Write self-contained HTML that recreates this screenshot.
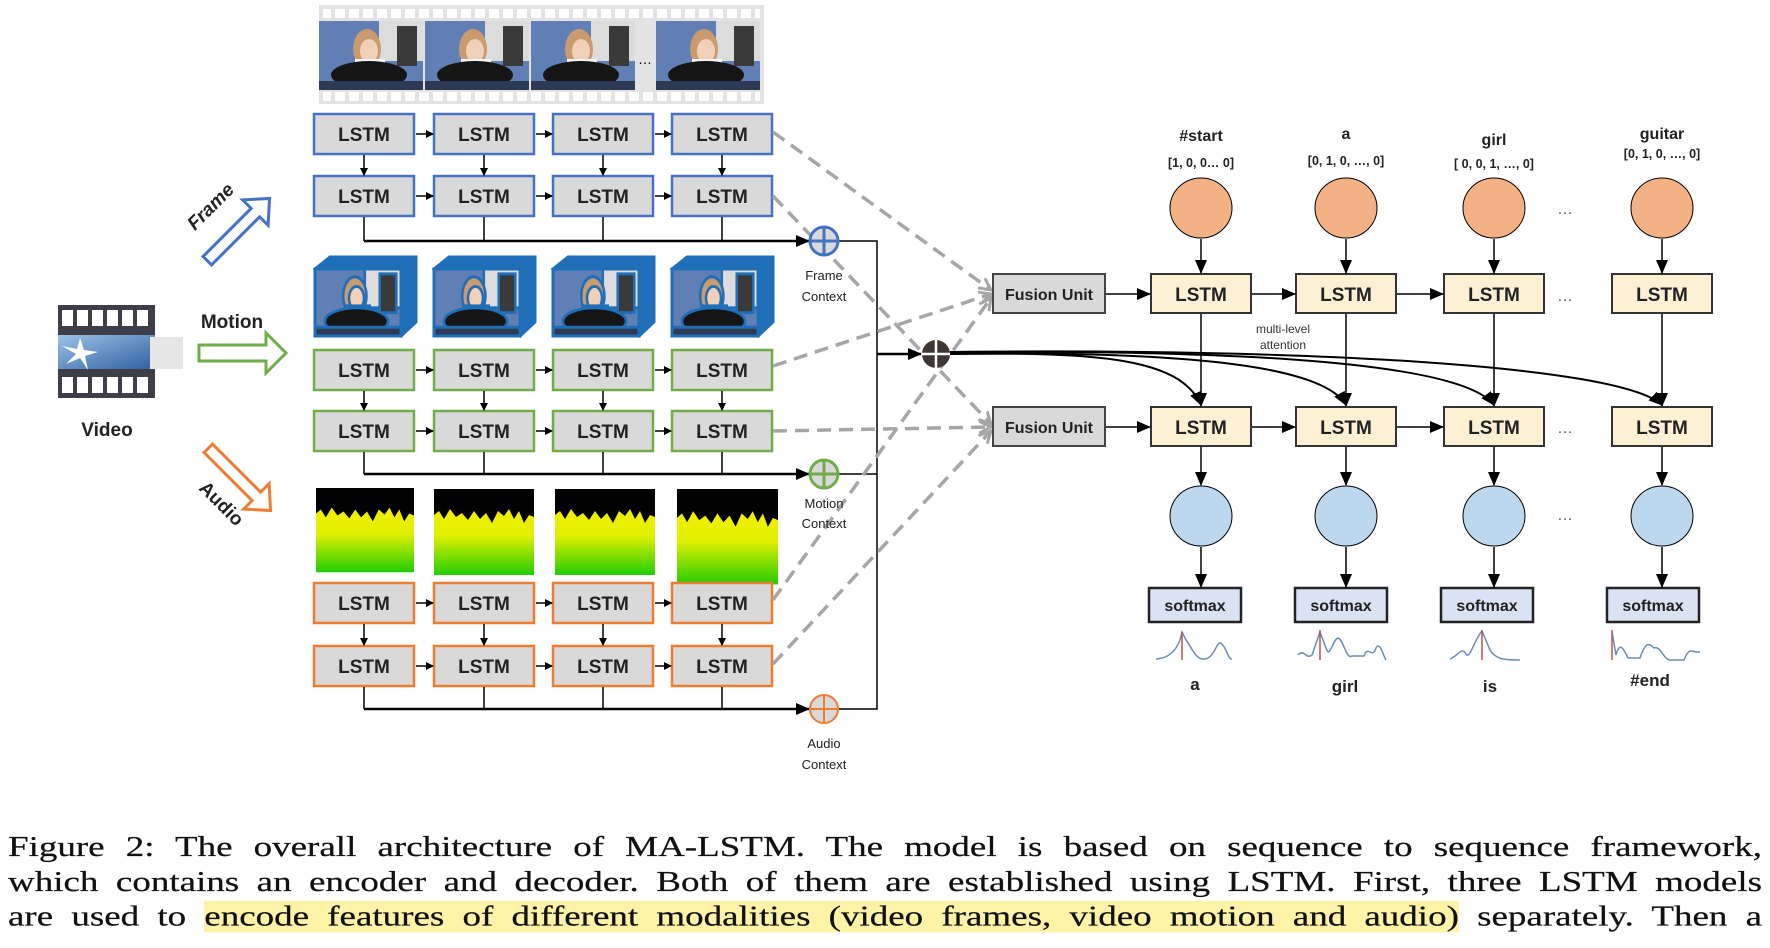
<!DOCTYPE html>
<html><head><meta charset="utf-8"><style>
html,body{margin:0;padding:0;background:#fff;}
body{width:1770px;height:948px;overflow:hidden;position:relative;}
svg{position:absolute;left:0;top:0;}
.cap{position:absolute;left:8px;width:1754px;font-family:"Liberation Serif",serif;font-size:37px;line-height:45px;top:830px;color:#111;transform:scale(1,0.77);transform-origin:0 0;-webkit-text-stroke:0.3px #111;}
.cap div{white-space:nowrap;text-align:justify;text-align-last:justify;}
.hl{background:#fff3a8;}
</style></head><body>
<svg width="1770" height="948" viewBox="0 0 1770 948" font-family="Liberation Sans, sans-serif">
<defs>
<marker id="a" markerWidth="8" markerHeight="8" refX="7" refY="4" orient="auto" markerUnits="userSpaceOnUse"><path d="M0,0 L8,4 L0,8z" fill="#000"/></marker>
<marker id="ab" markerWidth="14" markerHeight="12" refX="13" refY="6" orient="auto" markerUnits="userSpaceOnUse"><path d="M0,0 L14,6 L0,12z" fill="#000"/></marker>
<marker id="g" markerWidth="14" markerHeight="14" refX="12" refY="7" orient="auto" markerUnits="userSpaceOnUse"><path d="M0,1 L12,7 L0,13" fill="none" stroke="#a6a6a6" stroke-width="3"/></marker>
<linearGradient id="au" x1="0" y1="0" x2="0" y2="1"><stop offset="0" stop-color="#ffee00"/><stop offset="0.55" stop-color="#e0f000"/><stop offset="1" stop-color="#22cc00"/></linearGradient>
<linearGradient id="vid" x1="0" y1="0" x2="1" y2="1"><stop offset="0" stop-color="#9cc3e6"/><stop offset="1" stop-color="#2f5fa0"/></linearGradient>
<g id="photo">
<rect x="0" y="0" width="104" height="69" fill="#5f7fb5"/>
<rect x="60" y="0" width="44" height="40" fill="#dcdcdc"/>
<rect x="78" y="5" width="20" height="40" fill="#3a3a3a"/>
<ellipse cx="48" cy="28" rx="14" ry="20" fill="#c99b6e"/>
<ellipse cx="50" cy="30" rx="9" ry="12" fill="#f0d0b8"/>
<rect x="36" y="38" width="30" height="22" fill="#f2f2f2"/>
<ellipse cx="50" cy="54" rx="38" ry="14" fill="#151515"/>
<rect x="0" y="60" width="104" height="9" fill="#2d3a55"/>
</g>
<g id="aud">
<rect x="0" y="0" width="100" height="86" fill="url(#au)"/>
<path d="M0,0 H100 V28 L95,26 L90,34 L85,22 L80,30 L75,20 L70,27 L64,22 L58,34 L52,24 L46,30 L40,22 L34,31 L28,24 L22,28 L16,20 L10,30 L5,22 L0,26z" fill="#000"/>
</g>
</defs>

<rect x="319" y="5" width="445" height="99" fill="#e3e3e3"/>
<g fill="#fff">
<rect x="323" y="9" width="437" height="9"/>
<rect x="323" y="92" width="437" height="9"/>
</g>
<g stroke="#e3e3e3" stroke-width="4">
<path d="M333,8 V19 M347,8 V19 M361,8 V19 M375,8 V19 M389,8 V19 M403,8 V19 M417,8 V19 M431,8 V19 M445,8 V19 M459,8 V19 M473,8 V19 M487,8 V19 M501,8 V19 M515,8 V19 M529,8 V19 M543,8 V19 M557,8 V19 M571,8 V19 M585,8 V19 M599,8 V19 M613,8 V19 M627,8 V19 M641,8 V19 M655,8 V19 M669,8 V19 M683,8 V19 M697,8 V19 M711,8 V19 M725,8 V19 M739,8 V19 M753,8 V19"/>
<path d="M333,91 V102 M347,91 V102 M361,91 V102 M375,91 V102 M389,91 V102 M403,91 V102 M417,91 V102 M431,91 V102 M445,91 V102 M459,91 V102 M473,91 V102 M487,91 V102 M501,91 V102 M515,91 V102 M529,91 V102 M543,91 V102 M557,91 V102 M571,91 V102 M585,91 V102 M599,91 V102 M613,91 V102 M627,91 V102 M641,91 V102 M655,91 V102 M669,91 V102 M683,91 V102 M697,91 V102 M711,91 V102 M725,91 V102 M739,91 V102 M753,91 V102"/>
</g>
<use href="#photo" x="319" y="21"/>
<use href="#photo" x="425" y="21"/>
<use href="#photo" x="531" y="21"/>
<use href="#photo" x="656" y="21"/>
<text x="645" y="64" font-size="14" text-anchor="middle">…</text>

<g stroke="#1f6fb8" stroke-width="3" fill="#1f6fb8">
<g><path d="M315,269 L330,257 L416,257 L416,322 L401,336 Z"/><use href="#photo" x="315" y="269" transform="translate(315,269) scale(0.83,0.97) translate(-315,-269)"/><rect x="315" y="269" width="86" height="67" fill="none"/></g>
<g><path d="M434,269 L449,257 L535,257 L535,322 L520,336 Z"/><use href="#photo" x="434" y="269" transform="translate(434,269) scale(0.83,0.97) translate(-434,-269)"/><rect x="434" y="269" width="86" height="67" fill="none"/></g>
<g><path d="M553,269 L568,257 L654,257 L654,322 L639,336 Z"/><use href="#photo" x="553" y="269" transform="translate(553,269) scale(0.83,0.97) translate(-553,-269)"/><rect x="553" y="269" width="86" height="67" fill="none"/></g>
<g><path d="M672,269 L687,257 L773,257 L773,322 L758,336 Z"/><use href="#photo" x="672" y="269" transform="translate(672,269) scale(0.83,0.97) translate(-672,-269)"/><rect x="672" y="269" width="86" height="67" fill="none"/></g>
</g>

<use href="#aud" x="316" y="488" transform="translate(316,488) scale(0.98,0.98) translate(-316,-488)"/>
<use href="#aud" x="434" y="489"/>
<use href="#aud" x="555" y="489"/>
<use href="#aud" x="677" y="489" transform="translate(677,489) scale(1.01,1.11) translate(-677,-489)"/>

<g font-size="19" font-weight="bold" text-anchor="middle" fill="#222">
<g stroke="#4472c4" stroke-width="2.5" fill="#d9d9d9">
<rect x="314" y="114" width="100" height="40"/><rect x="434" y="114" width="100" height="40"/><rect x="553" y="114" width="100" height="40"/><rect x="672" y="114" width="100" height="40"/>
<rect x="314" y="176" width="100" height="40"/><rect x="434" y="176" width="100" height="40"/><rect x="553" y="176" width="100" height="40"/><rect x="672" y="176" width="100" height="40"/>
</g>
<g stroke="#70ad47" stroke-width="2.5" fill="#d9d9d9">
<rect x="314" y="350" width="100" height="40"/><rect x="434" y="350" width="100" height="40"/><rect x="553" y="350" width="100" height="40"/><rect x="672" y="350" width="100" height="40"/>
<rect x="314" y="411" width="100" height="40"/><rect x="434" y="411" width="100" height="40"/><rect x="553" y="411" width="100" height="40"/><rect x="672" y="411" width="100" height="40"/>
</g>
<g stroke="#ed7d31" stroke-width="2.5" fill="#d9d9d9">
<rect x="314" y="583" width="100" height="40"/><rect x="434" y="583" width="100" height="40"/><rect x="553" y="583" width="100" height="40"/><rect x="672" y="583" width="100" height="40"/>
<rect x="314" y="646" width="100" height="40"/><rect x="434" y="646" width="100" height="40"/><rect x="553" y="646" width="100" height="40"/><rect x="672" y="646" width="100" height="40"/>
</g>
<g>
<text x="364" y="141">LSTM</text><text x="484" y="141">LSTM</text><text x="603" y="141">LSTM</text><text x="722" y="141">LSTM</text>
<text x="364" y="203">LSTM</text><text x="484" y="203">LSTM</text><text x="603" y="203">LSTM</text><text x="722" y="203">LSTM</text>
<text x="364" y="377">LSTM</text><text x="484" y="377">LSTM</text><text x="603" y="377">LSTM</text><text x="722" y="377">LSTM</text>
<text x="364" y="438">LSTM</text><text x="484" y="438">LSTM</text><text x="603" y="438">LSTM</text><text x="722" y="438">LSTM</text>
<text x="364" y="610">LSTM</text><text x="484" y="610">LSTM</text><text x="603" y="610">LSTM</text><text x="722" y="610">LSTM</text>
<text x="364" y="673">LSTM</text><text x="484" y="673">LSTM</text><text x="603" y="673">LSTM</text><text x="722" y="673">LSTM</text>
</g>
</g>

<g stroke="#000" stroke-width="1.5" marker-end="url(#a)">
<path d="M416,134 H433"/><path d="M536,134 H552"/><path d="M655,134 H671"/>
<path d="M416,196 H433"/><path d="M536,196 H552"/><path d="M655,196 H671"/>
<path d="M416,370 H433"/><path d="M536,370 H552"/><path d="M655,370 H671"/>
<path d="M416,431 H433"/><path d="M536,431 H552"/><path d="M655,431 H671"/>
<path d="M416,603 H433"/><path d="M536,603 H552"/><path d="M655,603 H671"/>
<path d="M416,666 H433"/><path d="M536,666 H552"/><path d="M655,666 H671"/>
<path d="M364,155 V175"/><path d="M484,155 V175"/><path d="M603,155 V175"/><path d="M722,155 V175"/>
<path d="M364,391 V410"/><path d="M484,391 V410"/><path d="M603,391 V410"/><path d="M722,391 V410"/>
<path d="M364,624 V645"/><path d="M484,624 V645"/><path d="M603,624 V645"/><path d="M722,624 V645"/>
</g>
<g stroke="#000" stroke-width="1.5" fill="none">
<path d="M364,217 V241 M484,217 V241 M603,217 V241 M722,217 V241"/>
<path d="M364,452 V474 M484,452 V474 M603,452 V474 M722,452 V474"/>
<path d="M364,687 V709 M484,687 V709 M603,687 V709 M722,687 V709"/>
<path d="M839,241 H877 V709 H839 M839,474 H877"/>
</g>
<g stroke="#000" stroke-width="2.5" marker-end="url(#ab)">
<path d="M364,241 H809"/><path d="M364,474 H809"/><path d="M364,709 H809"/>
<path d="M877,354 H921"/>
</g>

<g stroke="#a6a6a6" stroke-width="3.5" stroke-dasharray="14,8" fill="none" marker-end="url(#g)">
<path d="M773,132 L991,290"/>
<path d="M773,366 L991,294"/>
<path d="M773,600 L991,298"/>
<path d="M773,196 L991,424"/>
<path d="M773,431 L991,427"/>
<path d="M773,664 L991,431"/>
</g>

<g stroke-width="3">
<circle cx="824" cy="241" r="14" fill="#d9d9d9" stroke="#4472c4"/><path d="M810,241 H838 M824,227 V255" stroke="#4472c4"/>
<circle cx="824" cy="474" r="14" fill="#d9d9d9" stroke="#70ad47"/><path d="M810,474 H838 M824,460 V488" stroke="#70ad47"/>
<circle cx="824" cy="709" r="14" fill="#d9d9d9" stroke="#ed7d31" stroke-width="2"/><path d="M810,709 H838 M824,695 V723" stroke="#ed7d31" stroke-width="2"/>
<circle cx="936" cy="354" r="14" fill="#3f3734" stroke="none"/><path d="M922,354 H950 M936,340 V368" stroke="#fff" stroke-width="2.5"/>
</g>
<g font-size="13" fill="#222" text-anchor="middle">
<text x="824" y="280">Frame</text><text x="824" y="301">Context</text>
<text x="824" y="508">Motion</text><text x="824" y="528">Context</text>
<text x="824" y="748">Audio</text><text x="824" y="769">Context</text>
</g>

<rect x="58" y="305" width="97" height="93" fill="#3e3e48"/>
<rect x="58" y="335" width="97" height="34" fill="url(#vid)"/>
<g fill="#fff">
<rect x="62" y="310" width="11" height="16"/><rect x="77" y="310" width="11" height="16"/><rect x="92" y="310" width="11" height="16"/><rect x="107" y="310" width="11" height="16"/><rect x="122" y="310" width="11" height="16"/><rect x="137" y="310" width="11" height="16"/>
<rect x="62" y="377" width="11" height="16"/><rect x="77" y="377" width="11" height="16"/><rect x="92" y="377" width="11" height="16"/><rect x="107" y="377" width="11" height="16"/><rect x="122" y="377" width="11" height="16"/><rect x="137" y="377" width="11" height="16"/>
<path d="M80,338 L84,350 L98,352 L85,356 L88,370 L80,358 L66,364 L76,354 L62,346 L77,349z"/>
</g>
<rect x="150" y="337" width="33" height="32" fill="#e6e6e6"/>
<text x="107" y="436" font-size="19" font-weight="bold" text-anchor="middle" fill="#222">Video</text>

<path d="M199,345 H266 V333 L286,353 L266,373 V361 H199 Z" fill="#fff" stroke="#70ad47" stroke-width="3"/>
<text x="232" y="328" font-size="19" font-weight="bold" text-anchor="middle" fill="#222">Motion</text>
<g transform="translate(237,231) rotate(-45)">
<path d="M-42,-6 H26 V-18 L46,0 L26,18 V6 H-42 Z" fill="#fff" stroke="#4472c4" stroke-width="3"/>
</g>
<text x="0" y="0" font-size="19" font-weight="bold" font-style="italic" text-anchor="middle" fill="#222" transform="translate(215,211) rotate(-45)">Frame</text>
<g transform="translate(238,478) rotate(45)">
<path d="M-42,-6 H26 V-18 L46,0 L26,18 V6 H-42 Z" fill="#fff" stroke="#ed7d31" stroke-width="3"/>
</g>
<text x="0" y="0" font-size="19" font-weight="bold" text-anchor="middle" fill="#222" transform="translate(217,508) rotate(45)">Audio</text>

<g font-weight="bold" text-anchor="middle" fill="#222">
<g stroke="#444" stroke-width="2" fill="#d9d9d9">
<rect x="993" y="274" width="112" height="39"/><rect x="993" y="407" width="112" height="39"/>
</g>
<text x="1049" y="300" font-size="16">Fusion Unit</text>
<text x="1049" y="433" font-size="16">Fusion Unit</text>
<g stroke="#333" stroke-width="2" fill="#fdf0d5">
<rect x="1151" y="274" width="100" height="39"/><rect x="1296" y="274" width="100" height="39"/><rect x="1444" y="274" width="100" height="39"/><rect x="1612" y="274" width="100" height="39"/>
<rect x="1151" y="407" width="100" height="39"/><rect x="1296" y="407" width="100" height="39"/><rect x="1444" y="407" width="100" height="39"/><rect x="1612" y="407" width="100" height="39"/>
</g>
<g font-size="19">
<text x="1201" y="301">LSTM</text><text x="1346" y="301">LSTM</text><text x="1494" y="301">LSTM</text><text x="1662" y="301">LSTM</text>
<text x="1201" y="434">LSTM</text><text x="1346" y="434">LSTM</text><text x="1494" y="434">LSTM</text><text x="1662" y="434">LSTM</text>
</g>
<g font-size="16">
<text x="1201" y="141">#start</text><text x="1346" y="139">a</text><text x="1494" y="145">girl</text><text x="1662" y="139">guitar</text>
</g>
<g font-size="12.5">
<text x="1201" y="167">[1, 0, 0… 0]</text><text x="1346" y="165">[0, 1, 0, …, 0]</text><text x="1494" y="168">[   0, 0, 1, …, 0]</text><text x="1662" y="158">[0, 1, 0, …, 0]</text>
</g>
<g stroke="#222" stroke-width="2.5" fill="#dae3f3">
<rect x="1149" y="588" width="92" height="34"/><rect x="1295" y="588" width="92" height="34"/><rect x="1441" y="588" width="92" height="34"/><rect x="1607" y="588" width="92" height="34"/>
</g>
<g font-size="16">
<text x="1195" y="611">softmax</text><text x="1341" y="611">softmax</text><text x="1487" y="611">softmax</text><text x="1653" y="611">softmax</text>
</g>
<g font-size="17">
<text x="1195" y="690">a</text><text x="1345" y="692">girl</text><text x="1490" y="692">is</text><text x="1650" y="686">#end</text>
</g>
</g>
<g font-size="12" text-anchor="middle" fill="#333"><text x="1283" y="333">multi-level</text><text x="1283" y="349">attention</text></g>
<g font-size="16" fill="#555" text-anchor="middle"><text x="1565" y="214">…</text><text x="1565" y="301">…</text><text x="1565" y="433">…</text><text x="1565" y="520">…</text></g>

<g stroke="#000" stroke-width="1">
<ellipse cx="1201" cy="208" rx="31" ry="30" fill="#f4b183"/><ellipse cx="1346" cy="208" rx="31" ry="30" fill="#f4b183"/><ellipse cx="1494" cy="208" rx="31" ry="30" fill="#f4b183"/><ellipse cx="1662" cy="208" rx="31" ry="30" fill="#f4b183"/>
<ellipse cx="1201" cy="516" rx="31" ry="30" fill="#bdd7ee"/><ellipse cx="1346" cy="516" rx="31" ry="30" fill="#bdd7ee"/><ellipse cx="1494" cy="516" rx="31" ry="30" fill="#bdd7ee"/><ellipse cx="1662" cy="516" rx="31" ry="30" fill="#bdd7ee"/>
</g>
<g stroke="#000" stroke-width="1.5" marker-end="url(#ab)" fill="none">
<path d="M1106,294 H1150"/><path d="M1252,294 H1295"/><path d="M1397,294 H1443"/>
<path d="M1106,427 H1150"/><path d="M1252,427 H1295"/><path d="M1397,427 H1443"/>
<path d="M1201,239 V273"/><path d="M1346,239 V273"/><path d="M1494,239 V273"/><path d="M1662,239 V273"/>
<path d="M1201,314 V406"/><path d="M1346,314 V406"/><path d="M1494,314 V406"/><path d="M1662,314 V406"/>
<path d="M1201,447 V485"/><path d="M1346,447 V485"/><path d="M1494,447 V485"/><path d="M1662,447 V485"/>
<path d="M1201,547 V587"/><path d="M1346,547 V587"/><path d="M1494,547 V587"/><path d="M1662,547 V587"/>
<path d="M950,354 C1100,352 1180,358 1201,405" stroke-width="2"/>
<path d="M950,353 C1150,352 1320,360 1346,405" stroke-width="2"/>
<path d="M950,352 C1220,350 1460,360 1494,405" stroke-width="2"/>
<path d="M950,352 C1300,348 1620,365 1662,405" stroke-width="2"/>
</g>

<g fill="none" stroke-width="1.5">
<path d="M1156,659 C1170,658 1176,650 1180,640 L1182,632 L1186,640 C1192,648 1196,660 1204,659 C1214,659 1216,643 1220,643 C1226,645 1228,660 1232,659" stroke="#6b8fb3"/>
<path d="M1182,632 V660" stroke="#c0504d"/>
<path d="M1298,655 C1304,648 1306,660 1312,655 L1320,632 L1326,648 C1330,660 1332,640 1338,638 C1344,640 1346,660 1352,656 L1364,656 C1368,644 1372,660 1376,648 C1380,640 1384,658 1386,660" stroke="#6b8fb3"/>
<path d="M1320,630 V660" stroke="#c0504d"/>
<path d="M1450,659 C1458,656 1462,646 1466,654 C1470,660 1474,640 1482,631 L1490,650 C1496,660 1506,660 1520,660" stroke="#6b8fb3"/>
<path d="M1482,630 V660" stroke="#c0504d"/>
<path d="M1612,632 L1616,655 C1620,640 1624,650 1628,658 L1640,658 C1646,640 1650,644 1654,648 C1660,645 1664,660 1670,660 L1684,660 C1688,650 1690,650 1696,652 L1700,652" stroke="#6b8fb3"/>
<path d="M1612,630 V660" stroke="#c0504d"/>
</g>
</svg>
<div class="cap">
<div>Figure 2: The overall architecture of MA-LSTM. The model is based on sequence to sequence framework,</div>
<div>which contains an encoder and decoder. Both of them are established using LSTM. First, three LSTM models</div>
<div>are used to <span class="hl">encode features of different modalities (video frames, video motion and audio)</span> separately. Then a</div>
</div>
</body></html>
